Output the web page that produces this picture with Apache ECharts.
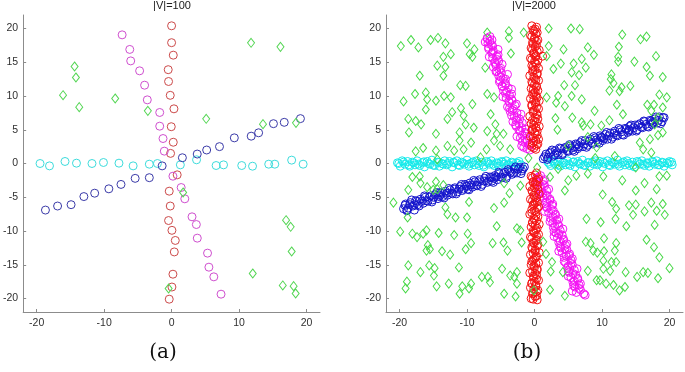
<!DOCTYPE html>
<html><head><meta charset="utf-8">
<script src="https://cdn.jsdelivr.net/npm/echarts@6/dist/echarts.min.js"></script>
<style>html,body{margin:0;padding:0;background:#fff}#c{width:685px;height:372px}</style>
</head><body><div id="c"></div>
<script>
const xTicks=[-20,-10,0,10,20];
const yTicks=[-20,-15,-10,-5,0,5,10,15,20];
const panelTitles=['|V|=100','|V|=2000'];
const captions=['(a)','(b)'];

// ---- panel (a): |V|=100 ----
const aCyan=[[-19.5,0],[-18.1,-0.35],[-15.8,0.3],[-14.1,0.05],[-11.8,0],[-10.1,0.15],[-7.8,0.05],[-5.7,-0.35],[-3.3,-0.1],[-2.1,0],[1.3,-0.2],[3.7,0.55],[6.6,-0.3],[7.7,-0.2],[10.4,-0.3],[12.0,-0.4],[14.4,-0.1],[15.3,-0.1],[17.8,0.5],[19.5,-0.1]];
const aBlue=[[-18.7,-6.9],[-16.9,-6.3],[-14.9,-6.1],[-13.0,-4.9],[-11.4,-4.4],[-9.3,-3.75],[-7.5,-3.1],[-5.4,-2.2],[-3.3,-2.1],[-1.4,-0.35],[1.6,0.85],[3.8,1.4],[5.2,2.0],[7.1,2.5],[9.3,3.8],[11.8,4.05],[12.9,4.55],[15.1,5.9],[16.7,6.1],[19.1,6.65]];
const aRed=[[0,20.4],[0,17.9],[0.25,16.05],[-0.5,13.9],[-0.45,12.15],[-0.2,10.1],[0.35,8.1],[-0.05,5.45],[0.25,3.15],[-0.15,1.5],[0.83,-1.68],[-0.35,-4.1],[-0.2,-6.3],[-0.45,-8.45],[0.05,-9.9],[0.55,-11.4],[0.4,-13.1],[0.2,-16.4],[0.05,-18.3],[-0.35,-20.1]];
const aMagenta=[[-7.33,19.06],[-6.2,16.9],[-6.06,15.2],[-4.74,13.73],[-4.0,11.6],[-3.6,9.43],[-1.76,7.56],[-1.76,5.53],[-1.27,3.7],[-1.08,1.83],[0.2,-1.88],[1.42,-3.56],[1.96,-5.23],[3.03,-7.9],[3.67,-9.04],[3.81,-11.06],[5.33,-13.28],[5.53,-15.36],[6.26,-16.79],[7.33,-19.36]];
const aGreen=[[-14.38,14.37],[-14.18,12.74],[-16.09,10.12],[-13.69,8.35],[-8.36,9.63],[-3.52,7.8],[5.13,6.62],[11.78,17.88],[16.14,17.28],[13.55,5.83],[18.44,6.02],[1.71,-4.3],[16.97,-8.4],[17.65,-9.38],[17.8,-13.04],[12.03,-16.3],[16.48,-18.07],[18.09,-18.17],[18.39,-19.26],[-0.44,-18.52]];

// ---- panel (b): |V|=2000 ----
const bCyan=[[-20.3,0.1],[-19.9,-0.4],[-19.6,0.4],[-19.2,-0.1],[-18.8,0.3],[-18.5,-0.4],[-18.1,0.2],[-17.7,-0.2],[-17.4,0.4],[-17.0,-0.3],[-16.6,0.1],[-16.3,-0.5],[-15.9,0.3],[-15.5,-0.1],[-15.2,0.5],[-14.8,-0.3],[-14.4,0.2],[-14.1,-0.4],[-13.7,0.0],[-13.3,0.4],[-13.0,-0.2],[-12.6,0.3],[-12.2,-0.5],[-11.9,0.1],[-11.5,0.4],[-11.1,-0.3],[-10.8,0.2],[-10.4,-0.1],[-10.0,0.5],[-9.7,-0.4],[-9.3,0.1],[-8.9,-0.2],[-8.6,0.4],[-8.2,-0.3],[-7.8,0.2],[-7.5,-0.5],[-7.1,0.3],[-6.7,-0.1],[-6.4,0.4],[-6.0,-0.3],[-5.6,0.1],[-5.3,-0.4],[-4.9,0.3],[-4.5,-0.1],[-4.2,0.4],[-3.8,-0.2],[-3.4,0.2],[-3.1,-0.4],[-2.7,0.1],[-2.3,0.3],[-2.0,-0.2],
[-20.1,0.0],[-19.4,0.2],[-18.6,-0.2],[-17.9,0.1],[-17.2,-0.1],[-16.4,0.25],[-15.7,0.0],[-15.0,-0.25],[-14.2,0.15],[-13.5,-0.1],[-12.8,0.0],[-12.0,0.2],[-11.3,-0.2],[-10.6,0.1],[-9.8,-0.1],[-9.1,0.25],[-8.4,0.0],[-7.6,-0.25],[-6.9,0.15],[-6.2,-0.1],[-5.4,0.0],[-4.7,0.2],[-4.0,-0.2],[-3.2,0.1],[-2.5,0.0],
[2.0,0.2],[2.4,-0.3],[2.7,0.4],[3.1,-0.1],[3.5,0.3],[3.8,-0.4],[4.2,0.1],[4.6,-0.2],[4.9,0.4],[5.3,-0.3],[5.7,0.2],[6.0,-0.5],[6.4,0.3],[6.8,-0.1],[7.1,0.5],[7.5,-0.3],[7.9,0.1],[8.2,-0.4],[8.6,0.2],[9.0,0.4],[9.3,-0.2],[9.7,0.3],[10.1,-0.5],[10.4,0.0],[10.8,0.4],[11.2,-0.3],[11.5,0.2],[11.9,-0.1],[12.3,0.5],[12.6,-0.4],[13.0,0.1],[13.4,-0.2],[13.7,0.4],[14.1,-0.3],[14.5,0.2],[14.8,-0.5],[15.2,0.3],[15.6,-0.1],[15.9,0.4],[16.3,-0.3],[16.7,0.1],[17.0,-0.4],[17.4,0.3],[17.8,-0.1],[18.1,0.4],[18.5,-0.2],[18.9,0.2],[19.2,-0.4],[19.6,0.1],[20.0,0.3],[20.4,-0.2],
[2.2,0.0],[2.9,0.2],[3.6,-0.2],[4.4,0.1],[5.1,-0.1],[5.8,0.25],[6.6,0.0],[7.3,-0.25],[8.0,0.15],[8.8,-0.1],[9.5,0.0],[10.2,0.2],[11.0,-0.2],[11.7,0.1],[12.4,-0.1],[13.2,0.25],[13.9,0.0],[14.6,-0.25],[15.4,0.15],[16.1,-0.1],[16.8,0.0],[17.6,0.2],[18.3,-0.2],[19.0,0.1],[19.8,0.0],[20.3,0.2]];
const bBlue=[[1.3,0.7],[1.7,1.4],[2.0,0.9],[2.4,1.7],[2.8,1.1],[3.1,1.9],[3.5,1.3],[3.9,2.2],[4.2,1.5],[4.6,2.4],[5.0,1.8],[5.3,2.6],[5.7,2.0],[6.1,2.9],[6.4,2.2],[6.8,3.1],[7.2,2.5],[7.5,3.4],[7.9,2.7],[8.3,3.6],[8.6,2.9],[9.0,3.8],[9.4,3.2],[9.7,4.1],[10.1,3.4],[10.5,4.3],[10.8,3.6],[11.2,4.5],[11.6,3.9],[11.9,4.8],[12.3,4.1],[12.7,5.0],[13.0,4.3],[13.4,5.2],[13.8,4.6],[14.1,5.5],[14.5,4.8],[14.9,5.7],[15.2,5.0],[15.6,5.9],[16.0,5.3],[16.3,6.2],[16.7,5.5],[17.1,6.4],[17.4,5.8],[17.8,6.6],[18.2,6.0],[18.5,6.9],[18.9,6.2],[19.2,6.8],[6.0,2.5],[10.0,3.8],[14.0,5.0],[17.5,6.1],
[1.5,1.0],[1.9,0.6],[2.2,1.5],[2.6,2.0],[3.0,1.3],[3.3,1.6],[3.7,2.3],[4.1,1.3],[4.4,2.2],[4.8,1.9],[5.2,2.8],[5.5,2.3],[5.9,1.8],[6.3,2.8],[6.6,2.5],[7.0,3.4],[7.4,2.9],[7.7,2.4],[8.1,3.3],[8.5,3.1],[8.8,4.0],[9.2,3.5],[9.6,3.0],[9.9,3.9],[10.3,3.7],[10.7,4.6],[11.0,4.1],[11.4,3.6],[11.8,4.5],[12.1,4.2],[12.5,5.2],[12.9,4.7],[13.2,4.2],[13.6,5.1],[14.0,4.8],[14.3,5.7],[14.7,5.3],[15.1,4.8],[15.4,5.7],[15.8,5.4],[16.2,6.3],[16.5,5.8],[16.9,5.4],[17.3,6.3],[17.6,6.0],[18.0,6.9],[18.4,6.4],[18.7,5.9],[19.0,6.8],
[-1.5,-0.5],[-1.9,-1.1],[-2.2,-0.6],[-2.6,-1.4],[-3.0,-0.8],[-3.3,-1.6],[-3.7,-1.1],[-4.1,-1.9],[-4.4,-1.3],[-4.8,-2.1],[-5.2,-1.5],[-5.5,-2.4],[-5.9,-1.8],[-6.3,-2.6],[-6.6,-2.0],[-7.0,-2.8],[-7.4,-2.2],[-7.7,-3.1],[-8.1,-2.4],[-8.5,-3.3],[-8.8,-2.7],[-9.2,-3.5],[-9.6,-2.9],[-9.9,-3.8],[-10.3,-3.1],[-10.7,-4.0],[-11.0,-3.4],[-11.4,-4.2],[-11.8,-3.6],[-12.1,-4.5],[-12.5,-3.9],[-12.9,-4.7],[-13.2,-4.1],[-13.6,-4.9],[-14.0,-4.3],[-14.3,-5.2],[-14.7,-4.6],[-15.1,-5.4],[-15.4,-4.8],[-15.8,-5.6],[-16.2,-5.0],[-16.5,-5.9],[-16.9,-5.3],[-17.3,-6.1],[-17.6,-5.5],[-18.0,-6.3],[-18.4,-5.8],[-18.7,-6.6],[-19.1,-6.0],[-19.4,-6.7],[-18.9,-7.0],[-17.8,-6.9],[-6.0,-2.2],[-10.0,-3.4],[-14.0,-4.7],
[-1.7,-0.8],[-2.0,-1.5],[-2.4,-0.8],[-2.8,-0.5],[-3.1,-1.4],[-3.5,-1.3],[-3.9,-0.9],[-4.2,-2.2],[-4.6,-1.5],[-5.0,-2.0],[-5.3,-1.3],[-5.7,-2.0],[-6.1,-2.8],[-6.4,-2.1],[-6.8,-2.6],[-7.2,-1.9],[-7.5,-2.6],[-7.9,-3.4],[-8.3,-2.7],[-8.6,-3.2],[-9.0,-2.5],[-9.4,-3.2],[-9.7,-3.9],[-10.1,-3.3],[-10.5,-3.8],[-10.8,-3.1],[-11.2,-3.8],[-11.6,-4.5],[-11.9,-3.8],[-12.3,-4.4],[-12.7,-3.7],[-13.0,-4.4],[-13.4,-5.1],[-13.8,-4.4],[-14.1,-4.9],[-14.5,-4.3],[-14.9,-5.0],[-15.2,-5.7],[-15.6,-5.0],[-16.0,-5.5],[-16.3,-4.8],[-16.7,-5.6],[-17.1,-6.3],[-17.4,-5.6],[-17.8,-6.1],[-18.2,-5.4],[-18.5,-6.1],[-18.9,-6.9],[-19.2,-6.2]];
const bMagenta=[[-0.7,2.0],[-1.6,2.4],[-0.7,2.7],[-1.4,3.1],[-1.1,3.5],[-2.1,3.8],[-1.8,4.2],[-1.4,4.6],[-2.3,4.9],[-1.9,5.3],[-2.8,5.7],[-1.8,6.0],[-2.7,6.4],[-2.6,6.8],[-3.4,7.1],[-2.6,7.5],[-3.3,7.9],[-3.7,8.2],[-2.9,8.6],[-3.7,9.0],[-3.3,9.3],[-4.2,9.7],[-3.7,10.1],[-4.3,10.4],[-4.6,10.8],[-3.9,11.2],[-4.8,11.5],[-4.3,11.9],[-5.1,12.3],[-4.6,12.6],[-5.3,13.0],[-4.9,13.4],[-5.6,13.7],[-5.0,14.1],[-5.7,14.5],[-5.8,14.8],[-5.3,15.2],[-6.2,15.6],[-5.6,15.9],[-6.3,16.3],[-6.1,16.7],[-6.8,17.0],[-6.2,17.4],[-6.9,17.8],[-6.6,18.1],[-7.0,18.5],[-6.6,18.8],
[-1.1,2.2],[-1.9,2.6],[-0.6,2.9],[-1.8,3.3],[-1.4,3.7],[-2.6,4.0],[-1.3,4.4],[-2.1,4.8],[-1.3,5.1],[-2.7,5.5],[-2.3,5.9],[-3.2,6.2],[-2.2,6.6],[-3.0,7.0],[-2.0,7.3],[-3.6,7.7],[-3.1,8.1],[-4.0,8.4],[-2.7,8.8],[-3.8,9.2],[-3.4,9.5],[-4.7,9.9],[-3.4,10.3],[-4.1,10.6],[-3.4,11.0],[-4.8,11.4],[-4.3,11.7],[-5.2,12.1],[-4.3,12.5],[-5.0,12.8],[-4.0,13.2],[-5.7,13.6],[-5.2,13.9],[-6.1,14.3],[-4.8,14.7],[-5.9,15.0],[-5.5,15.4],[-6.7,15.8],[-5.4,16.1],[-6.2,16.5],[-5.4,16.9],[-6.8,17.2],[-6.4,17.6],[-7.3,18.0],[-6.3,18.3],[-7.0,18.6],
[0.9,-1.8],[0.3,-2.2],[1.3,-2.6],[0.6,-2.9],[1.5,-3.3],[0.8,-3.7],[1.8,-4.0],[1.2,-4.4],[1.9,-4.8],[1.3,-5.1],[2.3,-5.5],[1.6,-5.9],[2.6,-6.2],[1.9,-6.6],[2.8,-7.0],[2.1,-7.3],[3.1,-7.7],[2.4,-8.1],[3.3,-8.4],[2.7,-8.8],[3.6,-9.2],[2.8,-9.5],[3.8,-9.9],[3.2,-10.3],[4.1,-10.6],[3.4,-11.0],[4.3,-11.4],[3.6,-11.7],[4.6,-12.1],[3.9,-12.5],[4.8,-12.8],[4.1,-13.2],[5.1,-13.6],[4.4,-13.9],[5.4,-14.3],[4.6,-14.7],[5.6,-15.0],[4.9,-15.4],[5.9,-15.8],[5.1,-16.1],[6.1,-16.5],[5.4,-16.9],[6.4,-17.2],[5.7,-17.6],[6.6,-18.0],[6.0,-18.3],[6.8,-18.7],[6.2,-19.1],[7.5,-19.5],
[0.6,-2.0],[1.5,-2.4],[0.3,-2.7],[1.3,-3.1],[0.9,-3.5],[2.1,-3.8],[0.9,-4.2],[1.6,-4.6],[0.8,-4.9],[2.3,-5.3],[1.8,-5.7],[2.7,-6.0],[1.7,-6.4],[2.5,-6.8],[1.5,-7.1],[3.1,-7.5],[2.7,-7.9],[3.6,-8.2],[2.3,-8.6],[3.4,-9.0],[3.0,-9.3],[4.2,-9.7],[2.9,-10.1],[3.6,-10.4],[2.9,-10.8],[4.3,-11.2],[3.8,-11.5],[4.8,-11.9],[3.8,-12.3],[4.5,-12.6],[3.6,-13.0],[5.2,-13.4],[4.7,-13.7],[5.6,-14.1],[4.4,-14.5],[5.4,-14.8],[5.0,-15.2],[6.3,-15.6],[5.0,-15.9],[5.7,-16.3],[5.0,-16.7],[6.4,-17.0],[5.9,-17.4],[6.8,-17.8],[5.8,-18.1],[6.6,-18.5],[5.6,-18.9],[7.3,-19.3]];
const bRed=[[0.2,2.1],[-0.4,2.5],[0.5,2.9],[-0.1,3.3],[0.6,3.6],[-0.6,4.0],[0.1,4.4],[0.4,4.8],[-0.3,5.1],[0.7,5.5],[-0.5,5.9],[0.0,6.3],[0.5,6.6],[-0.7,7.0],[0.3,7.4],[-0.2,7.8],[0.6,8.1],[-0.4,8.5],[0.1,8.9],[0.7,9.3],[-0.6,9.6],[0.2,10.0],[-0.1,10.4],[0.5,10.8],[-0.5,11.1],[0.3,11.5],[-0.3,11.9],[0.6,12.3],[0.0,12.6],[-0.7,13.0],[0.4,13.4],[-0.2,13.8],[0.6,14.1],[-0.4,14.5],[0.1,14.9],[0.5,15.3],[-0.6,15.6],[0.2,16.0],[-0.1,16.4],[0.7,16.8],[-0.5,17.1],[0.3,17.5],[-0.3,17.9],[0.5,18.3],[0.0,18.6],[-0.6,19.0],[0.4,19.4],[-0.2,19.8],[0.3,20.2],[-0.4,20.4],[1.2,15.9],
[-0.1,2.3],[0.3,2.7],[-0.3,3.0],[0.2,3.4],[-0.2,3.8],[0.4,4.2],[0.0,4.6],[-0.4,4.9],[0.2,5.3],[-0.1,5.7],[0.3,6.1],[-0.3,6.4],[0.1,6.8],[0.4,7.2],[-0.2,7.6],[0.0,7.9],[0.3,8.3],[-0.4,8.7],[0.2,9.1],[-0.1,9.4],[0.4,9.8],[-0.3,10.2],[0.1,10.6],[-0.2,10.9],[0.3,11.3],[0.0,11.7],[-0.4,12.1],[0.2,12.4],[-0.1,12.8],[0.4,13.2],[-0.3,13.6],[0.1,13.9],[-0.2,14.3],[0.3,14.7],[0.0,15.1],[-0.4,15.4],[0.2,15.8],[-0.1,16.2],[0.4,16.6],[-0.3,16.9],[0.1,17.3],[-0.2,17.7],[0.3,18.1],[0.0,18.4],[-0.4,18.8],[0.2,19.2],[-0.1,19.6],[0.1,19.9],
[0.3,-1.4],[-0.5,-1.9],[0.6,-2.3],[-0.2,-2.7],[0.1,-3.0],[-0.7,-3.4],[0.5,-3.8],[-0.3,-4.2],[0.7,-4.5],[0.0,-4.9],[-0.6,-5.3],[0.4,-5.7],[-0.1,-6.0],[0.6,-6.4],[-0.4,-6.8],[0.2,-7.2],[-0.7,-7.5],[0.5,-7.9],[0.0,-8.3],[-0.3,-8.7],[0.7,-9.0],[-0.5,-9.4],[0.2,-9.8],[-0.1,-10.2],[0.6,-10.5],[-0.6,-10.9],[0.3,-11.3],[-0.2,-11.7],[0.5,-12.0],[-0.4,-12.4],[0.1,-12.8],[0.7,-13.2],[-0.6,-13.5],[0.2,-13.9],[-0.2,-14.3],[0.6,-14.7],[-0.5,-15.0],[0.0,-15.4],[0.4,-15.8],[-0.7,-16.2],[0.3,-16.5],[-0.1,-16.9],[0.6,-17.3],[-0.4,-17.7],[0.2,-18.0],[-0.6,-18.4],[0.5,-18.8],[-0.2,-19.2],[0.3,-19.6],[-0.5,-20.0],[0.4,-20.2],
[0.1,-1.7],[-0.3,-2.1],[0.3,-2.5],[-0.2,-2.8],[0.4,-3.2],[0.0,-3.6],[-0.4,-4.0],[0.2,-4.3],[-0.1,-4.7],[0.3,-5.1],[-0.3,-5.5],[0.1,-5.8],[-0.2,-6.2],[0.4,-6.6],[0.0,-7.0],[-0.4,-7.3],[0.2,-7.7],[-0.1,-8.1],[0.3,-8.5],[-0.3,-8.8],[0.1,-9.2],[0.4,-9.6],[-0.2,-10.0],[0.0,-10.3],[0.3,-10.7],[-0.4,-11.1],[0.2,-11.5],[-0.1,-11.8],[0.4,-12.2],[-0.3,-12.6],[0.1,-13.0],[-0.2,-13.3],[0.3,-13.7],[0.0,-14.1],[-0.4,-14.5],[0.2,-14.8],[-0.1,-15.2],[0.4,-15.6],[-0.3,-16.0],[0.1,-16.3],[-0.2,-16.7],[0.3,-17.1],[0.0,-17.5],[-0.4,-17.8],[0.2,-18.2],[-0.1,-18.6],[0.3,-19.0],[-0.3,-19.3],[0.1,-19.7],[-0.2,-20.1]];
const bGreen=[[-19.8,17.4],[-18.3,18.3],[-17.2,17.2],[-15.4,18.3],[-14.3,18.6],[-13.2,17.8],[-10.0,17.8],[-9.6,16.2],[-8.9,16.9],[-9.2,15.8],[-13.5,15.8],[-12.4,16.2],[-14.4,14.5],[-13.2,14.3],[-13.5,13.0],[-17.0,13.0],[-11.0,11.6],[-10.2,11.5],[-17.7,10.3],[-16.1,10.5],[-15.9,9.5],[-14.6,9.3],[-13.4,10.0],[-12.4,9.8],[-19.4,9.2],[-9.2,8.8],[-16.1,8.0],[-10.9,8.2],[-12.2,7.6],[-12.9,6.6],[-10.5,7.1],[-9.0,5.3],[-18.7,6.6],[-17.6,6.3],[-16.8,5.8],[-18.6,4.6],[-11.1,4.6],[-10.2,5.8],[-14.6,4.4],[-12.9,2.6],[-11.1,3.4],[-9.4,3.1],[-16.5,2.3],[-17.6,1.8],[-14.6,1.9],[-11.9,1.9],[-10.5,2.1],
[-7.0,19.4],[-3.8,19.6],[-3.8,18.6],[-1.6,19.4],[2.1,20.0],[5.4,20.0],[6.7,19.9],[-3.5,16.3],[2.1,17.4],[4.3,16.9],[1.8,15.9],[2.8,14.0],[3.9,14.8],[5.8,14.8],[7.0,15.5],[5.5,13.5],[6.6,13.1],[4.4,11.6],[6.0,11.6],[3.5,10.0],[5.5,10.0],[1.8,9.8],[4.5,8.5],[7.0,9.5],[3.2,9.0],[3.1,6.7],[5.6,6.8],[7.0,6.1],[3.4,5.0],[-7.3,14.2],[-7.0,10.3],[-6.0,9.8],[-6.5,7.3],[-5.8,5.8],[-7.0,4.8],[-5.6,4.4],[-6.0,3.4],[-4.6,4.4],[-5.1,2.6],[-7.1,2.1],[-3.6,2.1],[5.0,2.6],
[13.0,19.1],[15.7,18.4],[16.6,18.8],[12.5,17.3],[7.9,17.2],[8.8,16.1],[12.4,15.8],[12.4,15.1],[14.8,15.1],[18.0,15.9],[16.6,14.3],[17.1,13.0],[19.0,12.8],[7.6,14.2],[11.4,13.2],[11.3,12.5],[11.7,11.9],[11.1,10.8],[12.6,10.7],[12.9,11.3],[14.2,11.5],[18.5,10.2],[19.6,9.8],[12.2,8.7],[16.7,8.7],[17.7,8.7],[19.0,8.3],[17.3,7.8],[13.1,7.3],[18.3,6.8],[8.9,7.8],[8.3,5.8],[9.9,5.6],[11.1,6.4],[7.2,5.6],[17.8,5.8],[19.0,4.6],[18.3,4.2],[17.1,3.6],[15.6,3.1],[16.1,2.1],[17.3,1.6],[11.9,1.1],[9.2,2.4],[7.9,3.9],
[-18.1,-2.0],[-17.0,-1.9],[-16.9,-2.9],[-15.9,-3.5],[-15.0,-3.9],[-14.4,-3.8],[-13.5,-3.2],[-14.6,-2.7],[-18.7,-3.9],[-20.9,-5.8],[-18.8,-8.0],[-13.2,-6.5],[-12.9,-7.5],[-11.7,-8.0],[-10.0,-8.0],[-9.7,-5.7],[-19.9,-10.1],[-18.1,-10.4],[-17.4,-10.9],[-16.5,-10.4],[-16.0,-9.9],[-14.2,-10.3],[-11.9,-10.6],[-9.9,-10.4],[-15.8,-12.1],[-15.5,-12.7],[-16.0,-12.9],[-13.7,-13.0],[-12.5,-13.5],[-10.2,-12.7],[-9.4,-11.8],[-18.7,-15.1],[-16.9,-16.1],[-15.6,-15.1],[-14.8,-15.5],[-14.9,-16.6],[-11.2,-15.4],[-18.9,-17.5],[-19.1,-18.5],[-14.5,-18.2],[-12.7,-17.8],[-10.7,-18.2],[-9.7,-18.5],[-9.4,-17.8],[-11.1,-19.3],[-7.8,-16.8],
[-4.5,-2.9],[-3.7,-4.4],[-2.1,-3.3],[2.3,-2.0],[3.5,-0.8],[5.0,-2.5],[4.5,-4.0],[6.2,-1.8],[-6.0,-6.6],[-4.5,-5.8],[-5.6,-9.3],[-2.6,-9.6],[-2.1,-9.9],[-6.2,-11.8],[-4.6,-11.7],[-4.0,-12.9],[-1.9,-11.7],[1.3,-11.6],[1.7,-13.4],[2.6,-14.6],[2.4,-16.0],[4.2,-16.1],[-4.8,-15.6],[-6.9,-16.8],[-6.6,-17.6],[-3.6,-16.6],[-2.6,-16.1],[-3.0,-16.8],[-2.6,-17.8],[-4.5,-19.3],[-2.8,-19.7],[2.3,-18.7],[4.5,-19.6],[-0.1,-18.8],
[7.9,-1.5],[10.2,-1.9],[13.0,-2.5],[16.3,-2.9],[18.1,-3.8],[18.5,-1.9],[19.6,-1.8],[15.0,-4.0],[10.1,-4.6],[11.5,-5.7],[12.1,-6.7],[14.0,-6.2],[15.0,-6.1],[14.6,-7.6],[16.3,-7.1],[17.3,-5.8],[18.1,-7.0],[19.0,-6.0],[19.3,-7.6],[7.7,-8.2],[9.8,-8.7],[12.0,-8.2],[13.6,-9.3],[17.8,-9.1],[10.3,-11.1],[16.6,-11.3],[17.7,-12.4],[18.5,-13.9],[7.6,-11.6],[8.3,-11.8],[8.7,-12.9],[9.3,-13.2],[10.3,-13.0],[12.1,-11.8],[11.9,-12.9],[10.2,-14.4],[11.4,-14.6],[12.1,-14.6],[11.2,-15.9],[10.2,-15.6],[7.9,-15.9],[13.5,-16.1],[16.1,-16.1],[16.8,-16.2],[15.2,-16.8],[18.3,-17.0],[20.0,-15.5],[9.2,-17.3],[9.7,-17.3],[10.6,-17.8],[11.7,-18.0],[12.6,-18.8],[13.4,-18.3],
[-14.4,0.6],[-8.0,0.9],[15.0,-0.6],[9.0,0.8],[0.4,-0.6],[-0.9,0.8]];

const chart=echarts.init(document.getElementById('c'),null,{renderer:'canvas'});
const axisGray='#8c8c8c';
function xAx(i){return {type:'value',gridIndex:i,min:-22,max:22,
  axisLine:{show:true,onZero:false,lineStyle:{color:axisGray,width:1}},
  axisTick:{show:true,inside:true,length:3,customValues:xTicks,lineStyle:{color:axisGray}},
  axisLabel:{customValues:xTicks,color:'#303030',fontSize:10.5,margin:6,fontFamily:'Liberation Sans'},
  splitLine:{show:false}};}
function yAx(i){return {type:'value',gridIndex:i,min:-22,max:22,
  axisLine:{show:true,onZero:false,lineStyle:{color:axisGray,width:1}},
  axisTick:{show:true,inside:true,length:3,customValues:yTicks,lineStyle:{color:axisGray}},
  axisLabel:{customValues:yTicks,color:'#303030',fontSize:10.5,margin:5,fontFamily:'Liberation Sans'},
  splitLine:{show:false}};}
function sc(data,i,color,symbol,size){return {type:'scatter',xAxisIndex:i,yAxisIndex:i,data:data,symbol:symbol,symbolSize:size,
  itemStyle:{color:'rgba(0,0,0,0)',borderColor:color,borderWidth:1,opacity:1},
  emphasis:{disabled:true},silent:true,clip:false,animation:false,large:false};}
const circ=8, dia=[7,9];
chart.setOption({
  backgroundColor:'#fff',animation:false,
  grid:[{left:23,top:15,width:297,height:297},{left:386,top:15,width:297,height:297}],
  xAxis:[xAx(0),xAx(1)],yAxis:[yAx(0),yAx(1)],
  series:[
    sc(aCyan,0,'#3ddcdc','circle',circ),
    sc(aBlue,0,'#3a3aa8','circle',circ),
    sc(aRed,0,'#cc4a4a','circle',circ),
    sc(aMagenta,0,'#cf4fcf','circle',circ),
    sc(aGreen,0,'#55d655','diamond',dia),
    sc(bCyan,1,'#14eaea','circle',circ),
    sc(bBlue,1,'#1515cc','circle',circ),
    sc(bMagenta,1,'#f414f4','circle',circ),
    sc(bRed,1,'#f41414','circle',circ),
    sc(bGreen,1,'#48d848','diamond',dia)
  ],
  graphic:[
    {type:'text',x:172,y:6,style:{text:panelTitles[0],fill:'#202020',fontSize:11,fontFamily:'Liberation Sans',align:'center',verticalAlign:'middle'}},
    {type:'text',x:534,y:6,style:{text:panelTitles[1],fill:'#202020',fontSize:11,fontFamily:'Liberation Sans',align:'center',verticalAlign:'middle'}},
    {type:'text',x:163,y:353,style:{text:captions[0],fill:'#111',fontSize:20,fontFamily:'DejaVu Serif',align:'center',verticalAlign:'middle'}},
    {type:'text',x:527,y:353,style:{text:captions[1],fill:'#111',fontSize:20,fontFamily:'DejaVu Serif',align:'center',verticalAlign:'middle'}}
  ]
});
</script></body></html>
